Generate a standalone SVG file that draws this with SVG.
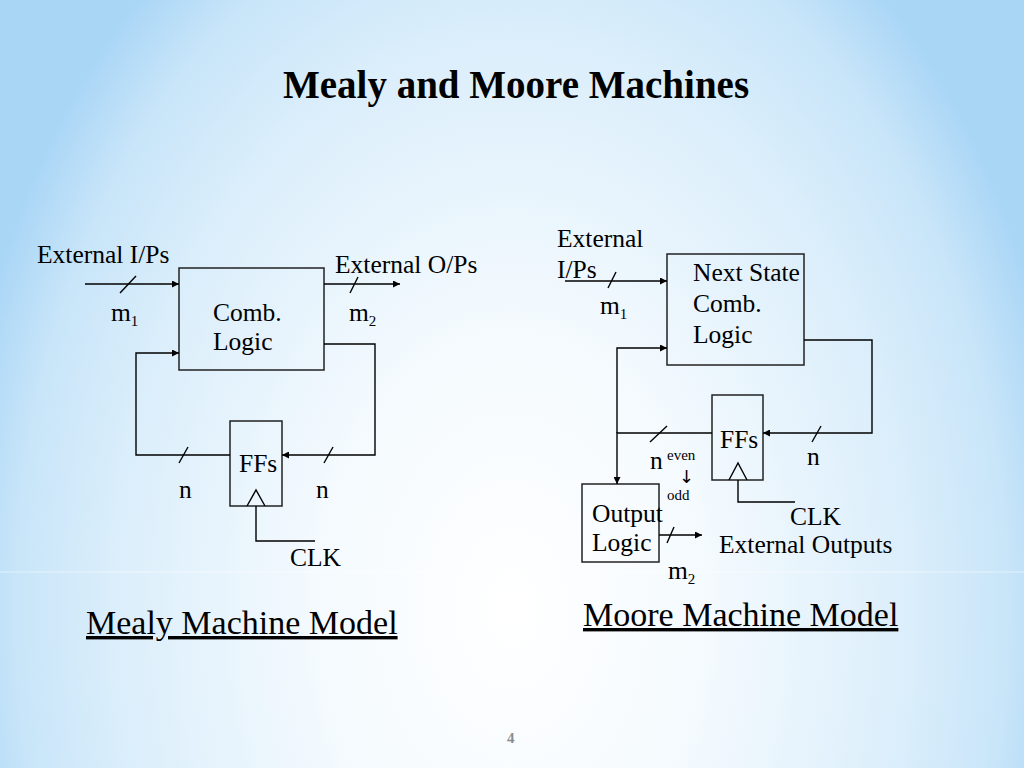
<svg xmlns="http://www.w3.org/2000/svg" width="1024" height="768" viewBox="0 0 1024 768">
<defs>
<radialGradient id="bg" gradientUnits="userSpaceOnUse" cx="512" cy="610" r="600" gradientTransform="translate(512 610) scale(0.94 1.36) translate(-512 -610)">
<stop offset="0" stop-color="#ffffff"/>
<stop offset="0.35" stop-color="#f4fafe"/>
<stop offset="0.7" stop-color="#dbeefb"/>
<stop offset="0.88" stop-color="#c8e5f9"/>
<stop offset="1" stop-color="#aad6f6"/>
</radialGradient>
<marker id="ah" viewBox="0 0 10 10" refX="10" refY="5" markerWidth="10" markerHeight="7" markerUnits="userSpaceOnUse" orient="auto">
<path d="M0,0 L10,5 L0,10 z" fill="#000"/>
</marker>
</defs>
<style>
text{font-family:"Liberation Serif","Times New Roman",serif;fill:#000}
.lbl{font-size:25.5px}
.sub{font-size:15px}
.sm{font-size:15px}
.arrowglyph{font-family:"DejaVu Sans",sans-serif;font-size:18px;fill:#000}
.title{font-size:39px;font-weight:bold}
.cap{font-size:34px;text-decoration:underline}
.pg{font-size:15px;font-weight:bold;fill:#8a8a8a}
.box{fill:none;stroke:#222;stroke-width:1.5}
.wire{fill:none;stroke:#000;stroke-width:1.4}
.arr{fill:none;stroke:#000;stroke-width:1.4;marker-end:url(#ah)}
</style>
<rect x="0" y="0" width="1024" height="768" fill="url(#bg)"/>
<line x1="0" y1="572" x2="1024" y2="572" stroke="#ffffff" stroke-opacity="0.25" stroke-width="2"/>

<text class="title" x="516" y="98" text-anchor="middle">Mealy and Moore Machines</text>

<!-- Mealy nodes -->
<g id="mealy-comb">
<rect class="box" x="179" y="268" width="145" height="102"/>
<text class="lbl" x="213" y="321">Comb.</text>
<text class="lbl" x="213" y="350">Logic</text>
</g>
<g id="mealy-ffs">
<rect class="box" x="230" y="421" width="52" height="85"/>
<text class="lbl" x="239" y="472">FFs</text>
<polyline class="wire" points="247,506 256,490 265,506"/>
</g>

<!-- Moore nodes -->
<g id="moore-next">
<rect class="box" x="667" y="254" width="137" height="111"/>
<text class="lbl" x="693" y="281">Next State</text>
<text class="lbl" x="693" y="312">Comb.</text>
<text class="lbl" x="693" y="343">Logic</text>
</g>
<g id="moore-ffs">
<rect class="box" x="712" y="395" width="51" height="85"/>
<text class="lbl" x="720" y="448">FFs</text>
<polyline class="wire" points="729,480 738,463 747,480"/>
</g>
<g id="moore-output">
<rect class="box" x="582" y="484" width="77" height="78"/>
<text class="lbl" x="592" y="522">Output</text>
<text class="lbl" x="592" y="551">Logic</text>
</g>

<g id="connectors">
<!-- Mealy -->
<path class="arr" d="M85,284 H179"/>
<path class="arr" d="M324,284 H400"/>
<path class="arr" d="M324,344 H375 V455 H282"/>
<path class="arr" d="M230,455 H136 V353 H179"/>
<path class="wire" d="M256,506 V541 H315"/>
<line class="wire" x1="120" y1="293" x2="136" y2="276"/>
<line class="wire" x1="350" y1="293" x2="358" y2="277"/>
<line class="wire" x1="324" y1="463" x2="333" y2="447"/>
<line class="wire" x1="179" y1="463" x2="188" y2="447"/>
<!-- Moore -->
<path class="arr" d="M565,281 H667"/>
<path class="arr" d="M804,340 H872 V433 H763"/>
<path class="arr" d="M712,433 H617 V484"/>
<path class="arr" d="M617,433 V348 H667"/>
<path class="wire" d="M738,480 V502 H795"/>
<path class="arr" d="M659,535 H702"/>
<line class="wire" x1="608" y1="288" x2="616" y2="272"/>
<line class="wire" x1="812" y1="442" x2="821" y2="426"/>
<line class="wire" x1="650" y1="442" x2="667" y2="426"/>
<line class="wire" x1="667" y1="543" x2="674" y2="527"/>
</g>

<!-- Mealy labels -->
<text class="lbl" x="37" y="263">External I/Ps</text>
<text class="lbl" x="335" y="273">External O/Ps</text>
<text class="lbl" x="111" y="321">m<tspan class="sub" dy="5">1</tspan></text>
<text class="lbl" x="349" y="321">m<tspan class="sub" dy="5">2</tspan></text>
<text class="lbl" x="179" y="498">n</text>
<text class="lbl" x="316" y="498">n</text>
<text class="lbl" x="290" y="566">CLK</text>
<text class="cap" x="86" y="634">Mealy Machine Model</text>

<!-- Moore labels -->
<text class="lbl" x="557" y="247">External</text>
<text class="lbl" x="557" y="278">I/Ps</text>
<text class="lbl" x="600" y="314">m<tspan class="sub" dy="5">1</tspan></text>
<text class="lbl" x="807" y="465">n</text>
<text class="lbl" x="650" y="469">n</text>
<text class="sm" x="667" y="460">even</text>
<text class="arrowglyph" x="679" y="483">↓</text>
<text class="sm" x="667" y="500">odd</text>
<text class="lbl" x="790" y="525">CLK</text>
<text class="lbl" x="719" y="553">External Outputs</text>
<text class="lbl" x="668" y="579">m<tspan class="sub" dy="5">2</tspan></text>
<text class="cap" x="583" y="626">Moore Machine Model</text>

<text class="pg" x="507" y="743">4</text>
</svg>
